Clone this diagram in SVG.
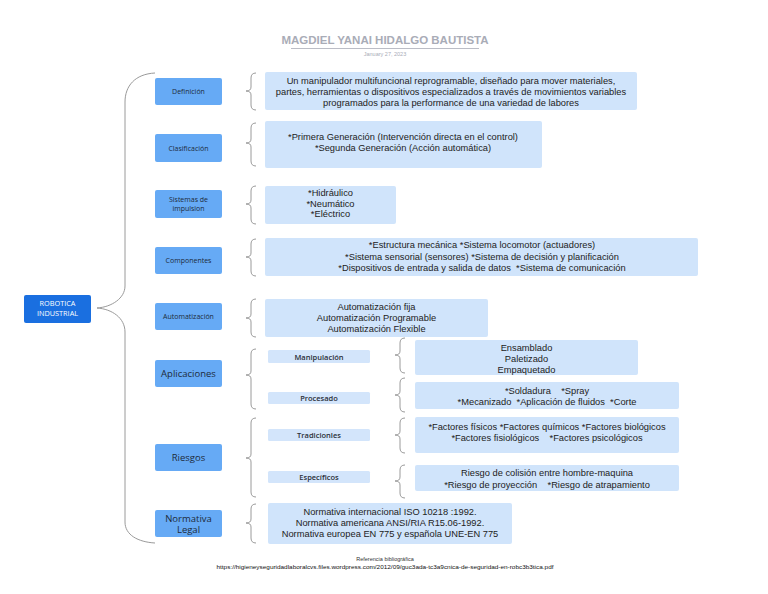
<svg xmlns="http://www.w3.org/2000/svg" width="768" height="594" viewBox="0 0 768 594">
<style>
.cat{fill:#66aaf5;}
.det{fill:#d0e4fb;}
.sub{fill:#d3e5fb;}
.br{fill:none;stroke:#9a9a9a;stroke-width:1;}
.ct{font-family:"Open Sans","Liberation Sans",sans-serif;font-size:7px;fill:#1d2a3a;text-anchor:middle;}
.cb{font-family:"Open Sans","Liberation Sans",sans-serif;font-size:9.5px;fill:#1d2a3a;text-anchor:middle;}
.dt{font-family:"Liberation Sans",Arial,sans-serif;font-size:9.3px;fill:#222;text-anchor:middle;white-space:pre;}
.st{font-family:"Open Sans","Liberation Sans",sans-serif;font-size:7.5px;font-weight:600;fill:#2a2f38;text-anchor:middle;}
</style>
<rect width="768" height="594" fill="#ffffff"/>
<g id="title">
<text x="385" y="44" font-family="Liberation Sans,Arial,sans-serif" font-weight="bold" font-size="11.5" fill="#a9acb7" text-anchor="middle">MAGDIEL YANAI HIDALGO BAUTISTA</text>
<line x1="291" y1="48.5" x2="479" y2="48.5" stroke="#a9acb7" stroke-width="0.8"/>
<text x="385" y="56" font-family="Liberation Sans,Arial,sans-serif" font-size="5.5" fill="#a9acb7" text-anchor="middle">January 27, 2023</text>
</g>
<g id="connectors">
<path class="br" d="M155 73 C135 74 125 86 125 102 L125 286 C125 298 112 307 97 308 C112 309 125 318 125 332 L125 522 C125 535 138 542 155 543"/>
<path class="br" d="M256 73 Q251 73 251 78 L251 87 Q251 91 246 91 Q251 91 251 95 L251 105 Q251 110 256 110"/>
<path class="br" d="M256 123 Q251 123 251 128 L251 139 Q251 143 246 143 Q251 143 251 147 L251 161 Q251 166 256 166"/>
<path class="br" d="M256 186 Q251 186 251 191 L251 200 Q251 204 246 204 Q251 204 251 208 L251 219 Q251 224 256 224"/>
<path class="br" d="M256 239 Q251 239 251 244 L251 253 Q251 257 246 257 Q251 257 251 261 L251 271 Q251 276 256 276"/>
<path class="br" d="M256 299 Q251 299 251 304 L251 314 Q251 318 246 318 Q251 318 251 322 L251 332 Q251 337 256 337"/>
<path class="br" d="M256 349 Q251 349 251 354 L251 371 Q251 375 246 375 Q251 375 251 379 L251 404 Q251 409 256 409"/>
<path class="br" d="M256 418 Q251 418 251 423 L251 454 Q251 458 246 458 Q251 458 251 462 L251 492 Q251 497 256 497"/>
<path class="br" d="M256 504 Q251 504 251 509 L251 519 Q251 523 246 523 Q251 523 251 527 L251 538 Q251 543 256 543"/>
<path class="br" d="M405 338 Q400 338 400 343 L400 351 Q400 355 395 355 Q400 355 400 359 L400 368 Q400 373 405 373"/>
<path class="br" d="M405 378 Q400 378 400 383 L400 391 Q400 395 395 395 Q400 395 400 399 L400 407 Q400 412 405 412"/>
<path class="br" d="M405 418 Q400 418 400 423 L400 431 Q400 435 395 435 Q400 435 400 439 L400 448 Q400 453 405 453"/>
<path class="br" d="M405 465 Q400 465 400 470 L400 477 Q400 481 395 481 Q400 481 400 485 L400 493 Q400 498 405 498"/>
</g>
<g id="root">
<rect x="24" y="295" width="67" height="28" rx="2" fill="#1a6fe0"/>
<text x="57.5" y="306" font-family="Open Sans,Liberation Sans,sans-serif" font-size="7.3" fill="#ffffff" text-anchor="middle">ROBOTICA</text>
<text x="57.5" y="315.5" font-family="Open Sans,Liberation Sans,sans-serif" font-size="7.3" fill="#ffffff" text-anchor="middle">INDUSTRIAL</text>
</g>
<g id="definicion">
<rect class="cat" x="155" y="78" width="67" height="27" rx="2"/>
<text class="ct" x="188.5" y="94">Definición</text>
</g>
<g id="definicion-detalle">
<rect class="det" x="265" y="72" width="372" height="38" rx="2"/>
<text class="dt" x="451" y="84">Un manipulador multifuncional reprogramable, diseñado para mover materiales,</text>
<text class="dt" x="451" y="95">partes, herramientas o dispositivos especializados a través de movimientos variables</text>
<text class="dt" x="451" y="106">programados para la performance de una variedad de labores</text>
</g>
<g id="clasificacion">
<rect class="cat" x="155" y="134" width="67" height="28" rx="2"/>
<text class="ct" x="188.5" y="150.5">Clasificación</text>
</g>
<g id="clasificacion-detalle">
<rect class="det" x="265" y="121" width="277" height="47" rx="2"/>
<text class="dt" x="403" y="140">*Primera Generación (Intervención directa en el control)</text>
<text class="dt" x="403" y="151">*Segunda Generación (Acción automática)</text>
</g>
<g id="sistemas">
<rect class="cat" x="155" y="190" width="67" height="28" rx="2"/>
<text class="ct" x="188.5" y="201.5">Sistemas de</text>
<text class="ct" x="188.5" y="211">impulsion</text>
</g>
<g id="sistemas-detalle">
<rect class="det" x="265" y="186" width="131" height="38" rx="2"/>
<text class="dt" x="330.5" y="196">*Hidráulico</text>
<text class="dt" x="330.5" y="206.5">*Neumático</text>
<text class="dt" x="330.5" y="217">*Eléctrico</text>
</g>
<g id="componentes">
<rect class="cat" x="155" y="247" width="67" height="27" rx="2"/>
<text class="ct" x="188.5" y="263">Componentes</text>
</g>
<g id="componentes-detalle">
<rect class="det" x="265" y="238" width="433" height="38" rx="2"/>
<text class="dt" x="482" y="248">*Estructura mecánica *Sistema locomotor (actuadores)</text>
<text class="dt" x="482" y="259.5">*Sistema sensorial (sensores) *Sistema de decisión y planificación</text>
<text class="dt" x="482" y="271">*Dispositivos de entrada y salida de datos  *Sistema de comunicación</text>
</g>
<g id="automatizacion">
<rect class="cat" x="155" y="303" width="67" height="27" rx="2"/>
<text class="ct" x="188.5" y="319">Automatización</text>
</g>
<g id="automatizacion-detalle">
<rect class="det" x="265" y="299" width="223" height="38" rx="2"/>
<text class="dt" x="376.5" y="310">Automatización fija</text>
<text class="dt" x="376.5" y="321">Automatización Programable</text>
<text class="dt" x="376.5" y="332">Automatización Flexible</text>
</g>
<g id="aplicaciones">
<rect class="cat" x="155" y="360" width="67" height="27" rx="2"/>
<text class="cb" x="188.5" y="376.5">Aplicaciones</text>
</g>
<g id="manipulacion">
<rect class="sub" x="268" y="350" width="102" height="13" rx="1.5"/>
<text class="st" x="319" y="359.5">Manipulación</text>
</g>
<g id="manipulacion-detalle">
<rect class="det" x="415" y="340" width="223" height="35" rx="2"/>
<text class="dt" x="526.5" y="351">Ensamblado</text>
<text class="dt" x="526.5" y="362">Paletizado</text>
<text class="dt" x="526.5" y="373">Empaquetado</text>
</g>
<g id="procesado">
<rect class="sub" x="268" y="392" width="102" height="12" rx="1.5"/>
<text class="st" x="319" y="401">Procesado</text>
</g>
<g id="procesado-detalle">
<rect class="det" x="415" y="382" width="264" height="27" rx="2"/>
<text class="dt" x="547" y="394">*Soldadura    *Spray</text>
<text class="dt" x="547" y="405">*Mecanizado  *Aplicación de fluidos  *Corte</text>
</g>
<g id="riesgos">
<rect class="cat" x="155" y="444" width="67" height="27" rx="2"/>
<text class="cb" x="188.5" y="460.5">Riesgos</text>
</g>
<g id="tradicionales">
<rect class="sub" x="268" y="429" width="102" height="12" rx="1.5"/>
<text class="st" x="319" y="438">Tradicionles</text>
</g>
<g id="tradicionales-detalle">
<rect class="det" x="415" y="417" width="264" height="36" rx="2"/>
<text class="dt" x="547" y="430">*Factores físicos *Factores químicos *Factores biológicos</text>
<text class="dt" x="547" y="441">*Factores fisiológicos    *Factores psicológicos</text>
</g>
<g id="especificos">
<rect class="sub" x="268" y="471" width="102" height="12" rx="1.5"/>
<text class="st" x="319" y="480">Específicos</text>
</g>
<g id="especificos-detalle">
<rect class="det" x="415" y="465" width="264" height="26" rx="2"/>
<text class="dt" x="547" y="476">Riesgo de colisión entre hombre-maquina</text>
<text class="dt" x="547" y="488">*Riesgo de proyección    *Riesgo de atrapamiento</text>
</g>
<g id="normativa">
<rect class="cat" x="155" y="510" width="67" height="27" rx="2"/>
<text class="cb" x="188.5" y="521.5">Normativa</text>
<text class="cb" x="188.5" y="533">Legal</text>
</g>
<g id="normativa-detalle">
<rect class="det" x="268" y="503" width="244" height="41" rx="2"/>
<text class="dt" x="390" y="515">Normativa internacional ISO 10218 :1992.</text>
<text class="dt" x="390" y="526">Normativa americana ANSI/RIA R15.06-1992.</text>
<text class="dt" x="390" y="537">Normativa europea EN 775 y española UNE-EN 775</text>
</g>
<g id="referencia">
<text x="385" y="561" font-family="Liberation Sans,Arial,sans-serif" font-size="5.5" fill="#333" text-anchor="middle">Referencia bibliográfica</text>
<text x="385" y="569" font-family="Liberation Sans,Arial,sans-serif" font-size="5.5" fill="#111" text-anchor="middle" textLength="337" lengthAdjust="spacingAndGlyphs">https://higieneyseguridadlaboralcvs.files.wordpress.com/2012/09/guc3ada-tc3a9cnica-de-seguridad-en-robc3b3tica.pdf</text>
</g>
</svg>
